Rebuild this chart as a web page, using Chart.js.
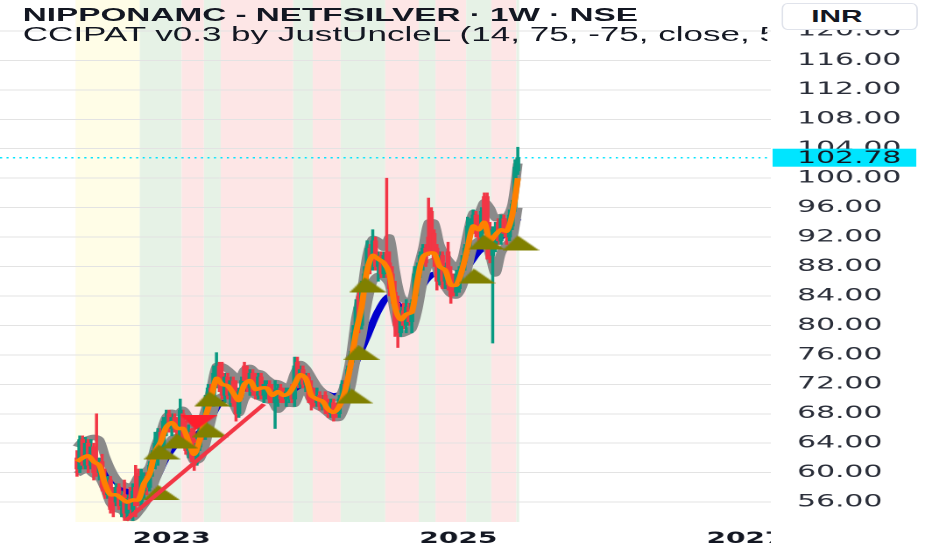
<!DOCTYPE html>
<html>
<head>
<meta charset="utf-8">
<script src="https://cdn.jsdelivr.net/npm/chart.js@4.4.1/dist/chart.umd.min.js"></script>
<style>
html, body { margin: 0; padding: 0; background: #fff; overflow: hidden; }
/* the reference is horizontally stretched, so draw narrow and stretch */
#wrap { position: absolute; left: 0; top: 0; width: 532px; height: 550px; transform: scaleX(1.7519); transform-origin: 0 0; }
#c { position: absolute; left: 0; top: 0; }
.ttl { position: absolute; left: 13px; white-space: nowrap; color: #131722; font-family: "Liberation Sans", Arial, sans-serif; }
#t1 { top: 5px; font-size: 19px; line-height: 19px; font-weight: bold; }
#t2 { top: 24px; font-size: 20px; line-height: 20px; width: 425px; overflow: hidden; }
#inr { position: absolute; left: 446px; top: 3px; width: 78px; height: 27px; box-sizing: border-box; border: 1px solid #e0e3eb; border-radius: 3.5px / 6px; background: #fff; color: #131722; font: 600 17px "Liberation Sans", Arial, sans-serif; line-height: 25px; padding-left: 16px; }
</style>
</head>
<body>
<div id="wrap">
  <canvas id="c" width="532" height="550"></canvas>
  <div class="ttl" id="t1">NIPPONAMC - NETFSILVER · 1W · NSE</div>
  <div class="ttl" id="t2">CCIPAT v0.3 by JustUncleL (14, 75, -75, close, 5</div>
  <div id="inr">INR</div>
</div>
<script>
// weekly candles, index 0 = first bar (mid 2022)
var opens = [62, 60.5, 64.5, 61, 64, 61, 63.5, 61, 60, 61.5,
  58.5, 57, 59, 56.5, 56, 58, 55.5, 57, 54.5, 56.5,
  55, 58, 59.5, 56, 57.5, 59.5, 58, 60.5, 62, 63,
  65.5, 63, 66, 68, 66, 67.5, 67, 65, 68, 65.5,
  63, 65.5, 64.5, 61.5, 63.5, 66.5, 65, 69.5, 71.5, 69.5,
  73, 74.5, 73.5, 70.5, 73, 70.5, 72.5, 71, 68, 70.5,
  74.5, 73.5, 71.5, 73.5, 72.5, 70.5, 73, 70.5, 71, 72,
  71, 69.5, 70, 71.5, 71, 70, 70, 71, 70, 75,
  72, 74, 72, 73, 71.5, 70.5, 69.5, 70.5, 69, 70.5,
  69.5, 68, 69.5, 69, 68, 70, 72, 71, 74, 76,
  79, 84, 80, 85, 87, 90.5, 88, 91.5, 88, 89.5,
  87, 90, 88.5, 87, 84.5, 83, 79, 82, 80, 82.5,
  80.5, 83, 86.5, 88, 89.5, 90.5, 92, 95.5, 92.5, 90.5,
  86, 89.5, 86, 90, 87, 86, 84.5, 85, 87, 88.5,
  90, 92, 93, 95, 94.5, 92, 97.5, 97.5, 93, 89.5,
  91, 94, 91.5, 94.5, 94, 92, 93.5, 96, 101];
var highs = [63, 65, 65, 64.8, 64.5, 64.5, 64, 68, 62, 62.5,
  60.5, 59.5, 59.5, 58, 58.5, 58.5, 57.5, 59, 57, 58,
  58.5, 61, 60.5, 60.5, 60, 60, 61.5, 63, 65.5, 66,
  66, 67.5, 68.5, 68.5, 68, 68, 67.5, 70, 68.5, 67,
  66.5, 66, 66, 65, 67, 67, 70.5, 72, 72, 74.5,
  76.3, 75, 75, 73.5, 73.5, 73, 73, 72.5, 71.5, 73,
  75, 74.5, 74, 74, 73.5, 73.5, 73.5, 72.5, 72.5, 72.5,
  72, 72.5, 72, 72, 71.5, 71.5, 71.5, 72, 75.7, 75.7,
  74.5, 74.5, 73.5, 73.5, 72.5, 71.5, 71.5, 71, 70.5, 71,
  70, 70, 70, 69.5, 70.5, 72.5, 72.5, 74.5, 76.5, 80,
  83.5, 85, 86, 88, 91.5, 91, 93, 92, 90, 90,
  90, 100, 90, 88, 86, 84, 82.5, 83, 83.5, 83,
  83.5, 88, 88.5, 90, 91, 91, 97.3, 96, 93, 91,
  90, 90, 88.5, 91.3, 88, 87, 87.5, 88, 89.5, 91,
  94.7, 94.5, 95.7, 95.5, 95, 96, 98, 98, 94, 93.4,
  94, 94.5, 95, 95, 94.5, 95.7, 97, 102.5, 104.2];
var lows = [59.5, 60, 60.5, 60.5, 60, 60.5, 59, 59.5, 59, 57.5,
  56.5, 56.5, 54.5, 54, 55.5, 55, 54, 53.5, 53.5, 54,
  53.5, 54, 55.5, 55, 56.5, 57, 57.5, 59.5, 60.5, 61,
  62.5, 62.5, 65, 65.5, 65, 65.5, 64.5, 64.5, 64, 62.5,
  62, 61.5, 60.3, 61, 63, 64.5, 64.5, 68, 69, 69,
  71.5, 71, 70, 69.5, 70, 69, 69, 67, 67.5, 70,
  72, 71, 70.5, 70.5, 70, 70, 70, 69.5, 70, 69.5,
  69.5, 66, 69, 69.5, 69.5, 69, 69.5, 69.5, 69, 71.5,
  71.5, 71.5, 71, 69.5, 68.5, 69, 69, 68.5, 68.5, 68,
  67.5, 67.5, 67, 67.5, 67.5, 69.5, 70.5, 70.5, 73.5, 75,
  78, 79, 79.5, 84, 86, 87, 87.5, 87.5, 86, 86.5,
  86.5, 86.5, 84, 83, 78.5, 77, 78.5, 79.5, 79, 80,
  79, 82.5, 84, 86.5, 87.5, 88, 89.5, 90, 88, 84.8,
  85.5, 85, 85, 84.8, 83, 84, 84, 84.5, 86, 87.5,
  89.5, 90.5, 92.5, 92, 91, 91.5, 92.5, 89, 88.5, 77.6,
  90, 91, 91, 92, 91, 91.5, 93, 95.5, 100.5];
var closes = [60.5, 64.5, 61, 64, 61, 63.5, 60, 60, 61.5, 58,
  57, 59, 55, 56, 58, 55.5, 57, 54.5, 56.5, 55,
  57.5, 55.5, 56.5, 59.5, 59.5, 58, 61, 62.5, 64, 65.5,
  63, 67, 67.5, 66, 67.5, 66, 65, 68.5, 64.5, 63,
  65.5, 62, 61, 64, 66.5, 65, 70, 71.5, 69.5, 73.5,
  74.5, 72, 70.5, 73, 70.5, 72.5, 69.5, 68, 71, 72.5,
  72.5, 71.5, 73.5, 71, 70.5, 73, 70.5, 72, 72, 70,
  70, 71, 71.5, 70, 70, 71, 71, 70, 74.5, 72,
  74, 72, 73, 70, 69.5, 69.5, 70.5, 69, 70, 68.5,
  68, 69.5, 67.5, 68, 70, 72, 71, 74, 76, 79,
  82.5, 80, 85, 87, 90.5, 88, 91.5, 88, 89.5, 87,
  89.5, 88, 85, 84.5, 80, 79, 82, 80, 82.5, 80.5,
  83, 87, 88, 89.5, 90.5, 88.5, 90.5, 90.5, 89, 86,
  89.5, 86, 88, 85.5, 84, 84.5, 87, 87.5, 88.5, 90.5,
  93.5, 94, 95, 92.5, 92, 95.5, 93.5, 91, 89.5, 93,
  93, 91.5, 94.5, 92.5, 92, 95, 96.5, 101.5, 102.78];

// indicator lines, read every 2 bars (blue every 4)
var bandIdx = [0, 2, 4, 6, 8, 10, 12, 14, 16, 18, 20, 22, 24, 26, 28, 30, 32, 34, 36, 38,
  40, 42, 44, 46, 48, 50, 52, 54, 56, 58, 60, 62, 64, 66, 68, 70, 72, 74, 76, 78,
  80, 82, 84, 86, 88, 90, 92, 94, 96, 98, 100, 102, 104, 106, 108, 110, 112, 114, 116, 118,
  120, 122, 124, 126, 128, 130, 132, 134, 136, 138, 140, 142, 144, 146, 148, 150, 152, 154, 156, 158];
var orangeLine = [61.5, 62, 62.3, 61.5, 61, 58.5, 57, 57, 56.5, 56,
  56.3, 56.3, 58.5, 59.8, 62.8, 64.2, 66.2, 66.8, 66, 66,
  64.2, 62.5, 64.5, 67.5, 70, 72.8, 72, 71.8, 70.8, 69.8,
  72, 72.5, 71.3, 71.5, 71.5, 70.5, 71, 70.5, 70.8, 72,
  73.3, 72.8, 70.5, 70, 69.7, 68.6, 68.2, 69, 71, 74.5,
  79, 82.5, 87.5, 89.5, 89, 88.5, 87, 82.5, 80.8, 81.5,
  81.8, 86, 89.3, 89.8, 89.8, 88, 87.5, 85.5, 85.5, 87.5,
  90.5, 93.5, 93, 94, 91.5, 92.3, 93, 92.8, 95, 100];
var grayUpper = [63.5, 64.3, 64.6, 64.8, 64.5, 62.3, 60.5, 59.2, 58.5, 58.2,
  58.3, 59.5, 60, 60.8, 63.5, 65.5, 67.6, 68.2, 68, 68.6,
  67.5, 66.3, 66.5, 68.5, 71.3, 74.5, 74.5, 74, 73.3, 72.5,
  74, 74.3, 73.7, 73.5, 72.8, 72.3, 72.2, 71.8, 71.6, 73.5,
  74.8, 74.2, 73, 71.8, 71, 70.5, 70, 70.3, 72, 75.5,
  81, 84.5, 89.5, 91.8, 91.5, 90.5, 92, 87.5, 84, 83.3,
  83.5, 87.5, 90.5, 94, 94, 91, 89.5, 88.5, 87.8, 89,
  92.5, 95.3, 95.3, 96.8, 96, 94.5, 94.8, 94.8, 96.5, 102];
var grayLower = [59.8, 60.2, 60.3, 59.7, 59.3, 57.8, 55.8, 55, 54.8, 54,
  53.8, 54.6, 55.6, 56.8, 59, 60.8, 63, 64.6, 64.9, 64.4,
  63.2, 61.5, 61.8, 63.8, 67, 69.8, 70.4, 70, 69.3, 68,
  70, 70.8, 70.4, 70.1, 69.8, 69.6, 68.5, 69.2, 69.3, 69.3,
  70.8, 71.2, 69.8, 69, 68.6, 68, 67.4, 67.4, 69, 71.5,
  75.5, 78.5, 83, 86, 86.8, 86.5, 85.5, 81.5, 78.8, 79,
  79.5, 82, 86, 88.3, 88.8, 86.3, 85.2, 84.2, 84, 85.2,
  87.8, 90.8, 91.6, 91.8, 89.5, 87, 89.8, 91, 91.8, 96];
var blueIdx = [0, 4, 8, 12, 16, 20, 24, 28, 32, 36, 40, 44, 48, 52, 56, 60, 64, 68, 72, 76,
  80, 84, 88, 92, 96, 100, 104, 108, 112, 116, 120, 124, 128, 132, 136, 140, 144, 148, 152, 156, 158];
var blueLine = [61, 61, 60.5, 59.5, 58, 57, 57, 59, 62, 64,
  64.5, 65.5, 67.5, 70, 71, 71.3, 71.3, 71, 71, 71,
  71.5, 71.5, 71, 70.5, 71, 75, 78.5, 82, 84, 82.5,
  82, 85.5, 87, 86.5, 86.5, 88, 90, 91, 92, 93.5, 94.5];

// signal triangles (bar position, price)
var buyX = [30.3, 30.5, 36.9, 47.7, 48.6, 99.6, 102.1, 104.3, 143.4, 146.9, 159.1];
var buyY = [57.3, 62.8, 64.3, 65.8, 70.0, 70.4, 76.3, 85.5, 86.7, 91.3, 91.2];
var sellX = [43.7];
var sellY = [66.8];

// red trend line
var trendX = [17.5, 67];
var trendY = [53.5, 69.3];

// background zones
var zoneStart = [-0.5, 22.5, 37.5, 45.5, 51.5, 77.5, 84.5, 94.5, 110.5, 122.5, 128.5, 139.5, 148.5, 157.5];
var zoneEnd = [22.5, 37.5, 45.5, 51.5, 77.5, 84.5, 94.5, 110.5, 122.5, 128.5, 139.5, 148.5, 157.5, 158.5];
var zoneKind = ['y', 'g', 'p', 'g', 'p', 'g', 'p', 'g', 'p', 'g', 'p', 'g', 'p', 'g'];

var yTicks = [56, 60, 64, 68, 72, 76, 80, 84, 88, 92, 96, 100, 104, 108, 112, 116, 120];
var yearPos = [33.9, 136.7, 239.6];
var yearLabels = ['2023', '2025', '2027'];

var lastPrice = closes[closes.length - 1];
var X_MIN = -27.6, X_MAX = 248.7;

var UP = '#089981', DOWN = '#f23645';
var zoneColors = { y: 'rgb(255,253,231)', g: 'rgb(230,242,230)', p: 'rgb(253,230,230)' };

function tri(color, flip) {
  var c = document.createElement('canvas');
  c.width = 21; c.height = 15;
  var g = c.getContext('2d');
  g.fillStyle = color;
  g.beginPath();
  if (!flip) { g.moveTo(0, 15); g.lineTo(8.6, 0); g.lineTo(21, 15); }
  else { g.moveTo(0, 0); g.lineTo(21, 0); g.lineTo(8.6, 15); }
  g.closePath();
  g.fill();
  return c;
}

function pts(xs, ys) {
  return xs.map(function (x, i) { return { x: x, y: ys[i] }; });
}

var candleColors = closes.map(function (c, i) { return c >= opens[i] ? UP : DOWN; });
var bodies = closes.map(function (c, i) { return { x: i, y: [opens[i], c] }; });
var wicks = closes.map(function (c, i) { return { x: i, y: [lows[i], highs[i]] }; });

var zonePlugin = {
  id: 'zones',
  beforeDraw: function (chart) {
    var ctx = chart.ctx, a = chart.chartArea, x = chart.scales.x;
    ctx.save();
    zoneStart.forEach(function (s, i) {
      var x0 = x.getPixelForValue(s), x1 = x.getPixelForValue(zoneEnd[i]);
      ctx.fillStyle = zoneColors[zoneKind[i]];
      ctx.fillRect(x0, a.top, x1 - x0, a.bottom - a.top);
    });
    ctx.restore();
  }
};

var priceTag = {
  id: 'priceTag',
  afterDraw: function (chart) {
    var ctx = chart.ctx, a = chart.chartArea, y = chart.scales.y;
    ctx.save();
    // price scale corner hides the tail of the last year label
    ctx.fillStyle = '#fff';
    ctx.fillRect(a.right, a.bottom, chart.width - a.right, chart.height - a.bottom);
    var py = y.getPixelForValue(lastPrice);
    ctx.fillStyle = '#00e5ff';
    ctx.fillRect(a.right + 1, py - 9, 82, 18);
    ctx.fillStyle = '#131722';
    ctx.font = '17px "DejaVu Sans"';
    ctx.textBaseline = 'middle';
    ctx.fillText(lastPrice.toFixed(2), a.right + 15, py + 1);
    ctx.restore();
  }
};

Chart.defaults.font.family = 'DejaVu Sans';

var lineStyle = { type: 'line', pointRadius: 0, tension: 0.3 };

new Chart(document.getElementById('c'), {
  type: 'bar',
  data: {
    datasets: [
      { type: 'line', data: pts(trendX, trendY), borderColor: DOWN, borderWidth: 3, pointRadius: 0, order: 0 },
      { type: 'scatter', data: pts(buyX, buyY), pointStyle: tri('#808000', false), pointRadius: 5, order: 1 },
      { type: 'scatter', data: pts(sellX, sellY), pointStyle: tri('#ff1e2d', true), pointRadius: 5, order: 1 },
      Object.assign({ data: pts(bandIdx, orangeLine), borderColor: '#ff8000', borderWidth: 3.5, order: 2 }, lineStyle),
      { type: 'bar', data: bodies, backgroundColor: candleColors, barThickness: 2.1, grouped: false, minBarLength: 1, order: 3 },
      { type: 'bar', data: wicks, backgroundColor: candleColors, barThickness: 1.1, grouped: false, order: 4 },
      Object.assign({ data: pts(bandIdx, grayUpper), borderColor: '#8a8a8a', borderWidth: 5.5, order: 5 }, lineStyle),
      Object.assign({ data: pts(bandIdx, grayLower), borderColor: '#8a8a8a', borderWidth: 5.5, order: 5 }, lineStyle),
      Object.assign({ data: pts(blueIdx, blueLine), borderColor: '#0000cd', borderWidth: 4.5, order: 6 }, lineStyle),
      { type: 'line', data: [{ x: X_MIN, y: lastPrice }, { x: X_MAX, y: lastPrice }], borderColor: '#00e5ff', borderWidth: 1.5, borderDash: [1.2, 2.5], pointRadius: 0, order: 7 }
    ]
  },
  options: {
    responsive: false,
    devicePixelRatio: 2,
    animation: false,
    events: [],
    layout: { padding: 0, autoPadding: false },
    plugins: { legend: { display: false }, tooltip: { enabled: false } },
    scales: {
      x: {
        type: 'linear', min: X_MIN, max: X_MAX, offset: false,
        grid: { display: false, drawTicks: false }, border: { display: false },
        afterBuildTicks: function (s) { s.ticks = yearPos.map(function (v) { return { value: v }; }); },
        afterFit: function (s) { s.height = 28; s.paddingLeft = 0; s.paddingRight = 0; },
        ticks: {
          autoSkip: false, maxRotation: 0, padding: 7, color: '#131722',
          font: { family: 'DejaVu Sans', size: 16, weight: 'bold' },
          callback: function (v, i) { return yearLabels[i]; }
        }
      },
      y: {
        position: 'right', min: 53.3, max: 124.2,
        grid: { color: '#e3e3e3', drawTicks: false }, border: { display: false },
        afterBuildTicks: function (s) { s.ticks = yTicks.map(function (v) { return { value: v }; }); },
        afterFit: function (s) { s.width = 92; s.paddingTop = 0; s.paddingBottom = 0; },
        ticks: {
          padding: 15, color: '#2a2e39',
          font: { family: 'DejaVu Sans', size: 17 },
          callback: function (v) { return v.toFixed(2); }
        }
      }
    }
  },
  plugins: [zonePlugin, priceTag]
});
</script>
</body>
</html>
